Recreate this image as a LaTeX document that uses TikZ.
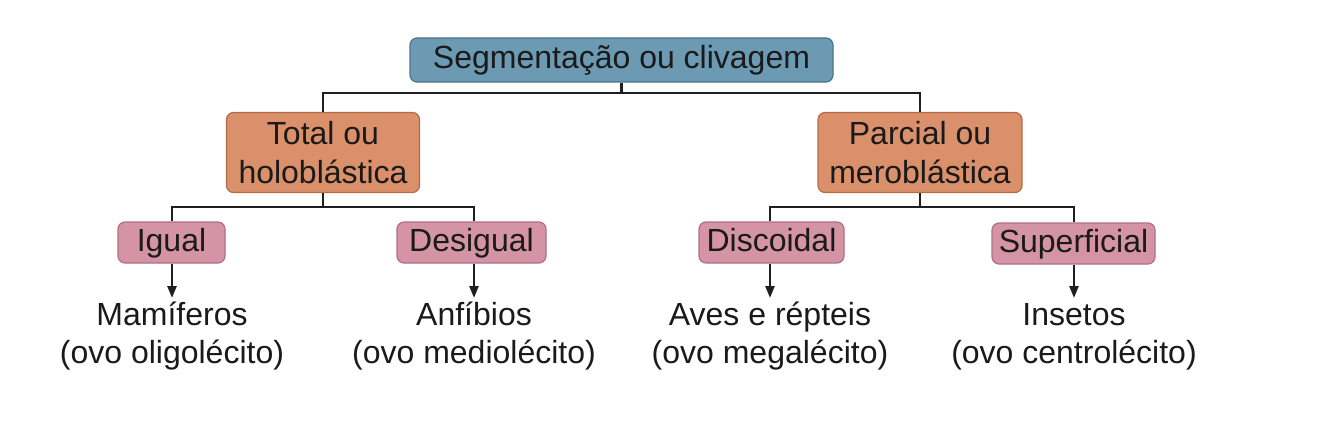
\documentclass[tikz,border=0pt]{standalone}
\usepackage{fontspec}
\setmainfont{Liberation Sans}
\usetikzlibrary{arrows.meta}
\definecolor{bluebox}{HTML}{6C9AB3}
\definecolor{blueedge}{HTML}{4A748C}
\definecolor{orangebox}{HTML}{DA906A}
\definecolor{orangeedge}{HTML}{B26C48}
\definecolor{pinkbox}{HTML}{D494A6}
\definecolor{pinkedge}{HTML}{AE7082}
\definecolor{txt}{HTML}{1A1A1A}
\tikzset{
  box/.style={rounded corners=7pt, inner sep=0pt, align=center, text=txt,
    font=\fontsize{32}{38.5}\selectfont, line width=1.2pt},
  topbox/.style={box, fill=bluebox, draw=blueedge, minimum width=423pt, minimum height=44pt,
    text height=25pt, text depth=7pt},
  midbox/.style={box, fill=orangebox, draw=orangeedge, minimum height=80pt},
  lowbox/.style={box, fill=pinkbox, draw=pinkedge, minimum height=41pt,
    text height=25pt, text depth=7pt},
  leaf/.style={inner sep=0pt, align=center, text=txt, font=\fontsize{32}{38.5}\selectfont, anchor=north},
  conn/.style={line width=2.4pt, draw=black!88},
  arr/.style={conn, -{Triangle[length=12pt,width=9pt]}}
}
\newcommand{\lfirst}{\rule{0pt}{27pt}}
\begin{document}
\begin{tikzpicture}[x=1pt,y=-1pt]
\useasboundingbox (0,0) rectangle (1332,436);
\node[topbox] (top) at (621.5,60) {Segmentação ou clivagem};
\node[midbox, minimum width=193pt] (total) at (323,152.5) {Total ou\\holoblástica};
\node[midbox, minimum width=204pt] (parcial) at (920,152.5) {Parcial ou\\meroblástica};
\node[lowbox, minimum width=107pt] (igual) at (171.5,242.5) {Igual};
\node[lowbox, minimum width=149pt] (desigual) at (471.5,242.5) {Desigual};
\node[lowbox, minimum width=145pt] (disc) at (771.5,242.5) {Discoidal};
\node[lowbox, minimum width=163pt] (sup) at (1073.5,243.5) {Superficial};
\coordinate (j1) at (top.south |- 0,93);
\coordinate (j2) at (total.south |- 0,207);
\coordinate (j3) at (parcial.south |- 0,207);
\node[leaf] (mam) at (172,298) {\lfirst Mamíferos\\(ovo oligolécito)};
\node[leaf] (anf) at (474,298) {\lfirst Anfíbios\\(ovo mediolécito)};
\node[leaf] (aves) at (770,298) {\lfirst Aves e répteis\\(ovo megalécito)};
\node[leaf] (ins) at (1074,298) {\lfirst Insetos\\(ovo centrolécito)};
\draw[conn] (top.south) -- (j1);
\draw[conn] (total.north) |- (j1) -| (parcial.north);
\draw[conn] (total.south) -- (j2);
\draw[conn] (igual.north -| mam.north) |- (j2) -| (desigual.north -| anf.north);
\draw[conn] (parcial.south) -- (j3);
\draw[conn] (disc.north -| aves.north) |- (j3) -| (sup.north -| ins.north);
\draw[arr] (igual.south -| mam.north) -- (mam.north);
\draw[arr] (desigual.south -| anf.north) -- (anf.north);
\draw[arr] (disc.south -| aves.north) -- (aves.north);
\draw[arr] (sup.south -| ins.north) -- (ins.north);
\end{tikzpicture}
\end{document}
